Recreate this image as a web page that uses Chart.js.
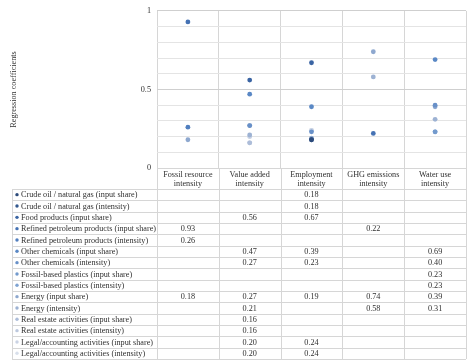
<!DOCTYPE html>
<html>
<head>
<meta charset="utf-8">
<script src="https://cdn.jsdelivr.net/npm/chart.js@4.4.1/dist/chart.umd.min.js"></script>
<style>
  html, body { margin: 0; padding: 0; background: #fff; }
  #wrap { width: 474px; height: 364px; position: relative; }
</style>
</head>
<body>
<div id="wrap"><canvas id="regChart"></canvas></div>
<script>
// categories (x) and the series shown in the data table
const categories = [
  ['Fossil resource', 'intensity'],
  ['Value added', 'intensity'],
  ['Employment', 'intensity'],
  ['GHG emissions', 'intensity'],
  ['Water use', 'intensity']
];

const seriesNames = [
  'Crude oil / natural gas (input share)',
  'Crude oil / natural gas (intensity)',
  'Food products (input share)',
  'Refined petroleum products (input share)',
  'Refined petroleum products (intensity)',
  'Other chemicals (input share)',
  'Other chemicals (intensity)',
  'Fossil-based plastics (input share)',
  'Fossil-based plastics (intensity)',
  'Energy (input share)',
  'Energy (intensity)',
  'Real estate activities (input share)',
  'Real estate activities (intensity)',
  'Legal/accounting activities (input share)',
  'Legal/accounting activities (intensity)'
];

// one row per series, one value per category (null = no coefficient)
const seriesValues = [
  [null, null, 0.18, null, null],
  [null, null, 0.18, null, null],
  [null, 0.56, 0.67, null, null],
  [0.93, null, null, 0.22, null],
  [0.26, null, null, null, null],
  [null, 0.47, 0.39, null, 0.69],
  [null, 0.27, 0.23, null, 0.40],
  [null, null, null, null, 0.23],
  [null, null, null, null, 0.23],
  [0.18, 0.27, 0.19, 0.74, 0.39],
  [null, 0.21, null, 0.58, 0.31],
  [null, 0.16, null, null, null],
  [null, 0.16, null, null, null],
  [null, 0.20, 0.24, null, null],
  [null, 0.20, 0.24, null, null]
];

const yTickLabels = ['0', '0.5', '1'];

const seriesColors = [
  '#2c4a7a', '#32578e', '#3a64a3', '#4572b4', '#517fbf',
  '#5a88c5', '#6890c8', '#739acd', '#7fa3d2', '#8ea8cf',
  '#9db2d3', '#adbdd9', '#bcc8de', '#cad3e4', '#d8dfeb'
];

const serif = 'Liberation Serif, Times New Roman, serif';
const textColor = '#303030';
const lineColor = '#d6d6d6';

// draws the Excel-style data table under the plot
const dataTablePlugin = {
  id: 'dataTable',
  afterDraw(chart) {
    const ctx = chart.ctx;
    const area = chart.chartArea;
    const x = chart.scales.x;
    const tableTop = 189, tableLeft = 12;
    const rowH = 11.33;
    const tableBottom = tableTop + rowH * seriesNames.length;
    const half = (area.right - area.left) / categories.length / 2;
    const edges = [area.left];
    categories.forEach((c, i) => edges.push(x.getPixelForValue(i) + half));

    ctx.save();
    ctx.strokeStyle = lineColor;
    ctx.lineWidth = 1;
    ctx.beginPath();
    for (let r = 0; r <= seriesNames.length; r++) {
      const y = Math.round(tableTop + r * rowH) + 0.5;
      ctx.moveTo(tableLeft, y);
      ctx.lineTo(area.right, y);
    }
    ctx.moveTo(tableLeft + 0.5, tableTop);
    ctx.lineTo(tableLeft + 0.5, Math.round(tableBottom));
    edges.forEach(e => {
      const xx = Math.round(e) + 0.5;
      ctx.moveTo(xx, area.bottom);
      ctx.lineTo(xx, Math.round(tableBottom));
    });
    ctx.stroke();

    ctx.font = '8.2px ' + serif;
    ctx.textBaseline = 'middle';
    seriesNames.forEach((name, r) => {
      const cy = tableTop + r * rowH + rowH / 2;
      ctx.fillStyle = seriesColors[r];
      ctx.beginPath();
      ctx.arc(17, cy, 1.7, 0, Math.PI * 2);
      ctx.fill();
      ctx.fillStyle = textColor;
      ctx.textAlign = 'left';
      ctx.fillText(name, 21, cy + 0.5);
      ctx.textAlign = 'center';
      seriesValues[r].forEach((v, c) => {
        if (v === null) return;
        ctx.fillText(v.toFixed(2), x.getPixelForValue(c), cy + 0.5);
      });
    });
    ctx.restore();
  }
};

const datasets = seriesNames.map((name, i) => ({
  label: name,
  data: seriesValues[i],
  showLine: false,
  pointRadius: 2.4,
  pointHoverRadius: 2.4,
  pointBorderWidth: 0,
  backgroundColor: seriesColors[i],
  borderColor: seriesColors[i]
}));

new Chart(document.getElementById('regChart'), {
  type: 'line',
  data: { labels: categories, datasets: datasets },
  plugins: [dataTablePlugin],
  options: {
    responsive: true,
    maintainAspectRatio: false,
    animation: false,
    layout: { padding: { left: 0, top: 8, right: 8, bottom: 175 } },
    plugins: { legend: { display: false }, tooltip: { enabled: false } },
    scales: {
      x: {
        offset: true,
        grid: { offset: true, color: lineColor, drawTicks: false },
        border: { color: lineColor },
        ticks: {
          padding: 2,
          color: textColor,
          autoSkip: false,
          maxRotation: 0,
          font: { family: serif, size: 8.2, lineHeight: 1.1 }
        },
        afterFit(s) { s.height = 21; }
      },
      y: {
        min: 0,
        max: 1,
        grid: {
          drawTicks: false,
          color: c => (Math.abs(c.tick.value * 2 - Math.round(c.tick.value * 2)) < 1e-6 ? '#cfcfcf' : '#e4e4e4')
        },
        border: { display: false },
        ticks: {
          stepSize: 0.1,
          autoSkip: false,
          padding: 6,
          color: textColor,
          font: { family: serif, size: 8.2 },
          callback(v) {
            const k = Math.round(v * 2);
            return Math.abs(v * 2 - k) < 1e-6 ? yTickLabels[k] : '';
          }
        },
        title: {
          display: true,
          text: 'Regression coefficients',
          color: textColor,
          font: { family: serif, size: 8.2 },
          padding: { top: 9, bottom: 0 }
        },
        afterFit(s) { s.width = 157; }
      }
    }
  }
});
</script>
</body>
</html>
